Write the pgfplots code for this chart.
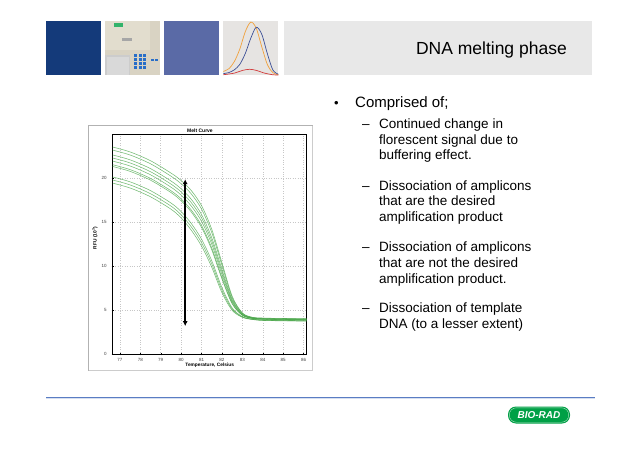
\documentclass[border=0pt]{standalone}
\usepackage{fontspec}
\setmainfont{Liberation Sans}
\usepackage{pgfplots}
\pgfplotsset{compat=1.18}
\usetikzlibrary{arrows.meta}

\definecolor{darkblue}{RGB}{20,58,122}
\definecolor{midblue}{RGB}{90,106,166}
\definecolor{beige}{RGB}{217,211,195}
\definecolor{beigelight}{RGB}{226,221,206}
\definecolor{iconbg}{RGB}{230,228,226}
\definecolor{graybar}{RGB}{232,232,232}
\definecolor{curvegreen}{RGB}{70,165,70}
\definecolor{keyblue}{RGB}{40,110,200}
\definecolor{rulecol}{RGB}{90,125,195}
\definecolor{biorad}{RGB}{0,160,70}
\definecolor{iorange}{RGB}{240,160,60}
\definecolor{iblue}{RGB}{60,80,150}
\definecolor{ired}{RGB}{210,60,60}

\begin{document}
\begin{tikzpicture}
\path[use as bounding box, fill=white] (0,0) rectangle (638pt,451pt);
\begin{scope}[x=1pt,y=-1pt,shift={(0pt,451pt)}]
  % header boxes
  \fill[darkblue] (46,20.7) rectangle (100.7,75.3);
  \fill[beige] (105.3,20.7) rectangle (160,75.3);
  \fill[beigelight] (105.3,20.7) rectangle (150,50);
  \fill[biorad!80] (114,23) rectangle (123,27);
  \fill[black!35] (121.7,38) rectangle (131.7,41);
  \fill[black!20] (105.3,55) rectangle (130,75.3);
  \fill[white!85!black] (106.5,57) rectangle (129,75.3);
  \foreach \i in {0,1,2,3}{\foreach \j in {0,1,2}{
     \fill[keyblue] (134+\j*4.6,54+\i*4) rectangle ++(3,2.6);}}
  \fill[keyblue] (151,59) rectangle ++(2.5,2.5);
  \fill[keyblue] (155,59) rectangle ++(2.5,2.5);
  \fill[midblue] (164.3,20.7) rectangle (219,75.3);
  \fill[iconbg] (223.3,20.7) rectangle (278.3,75.3);
  \fill[graybar] (284.3,20.7) rectangle (592,75.3);
  \node[anchor=base east, font=\fontsize{17.5}{20}\selectfont, inner sep=0pt] at (567,55) {DNA melting phase};

  % bullet text
  \node[anchor=base west, font=\fontsize{13}{18}\selectfont, inner sep=0pt] at (334,107.5) {\textbullet};
  \node[anchor=base west, font=\fontsize{15}{18}\selectfont, inner sep=0pt] at (355,108) {Comprised of;};
  \foreach \y/\t in {128.5/Continued change in, 190/Dissociation of amplicons, 251.5/Dissociation of amplicons, 312.5/Dissociation of template}{
    \node[anchor=base west, font=\fontsize{13.5}{16}\selectfont, inner sep=0pt] at (362,\y) {--};
    \node[anchor=base west, font=\fontsize{13.5}{16}\selectfont, inner sep=0pt] at (379,\y) {\t};}
  \foreach \y/\t in {144.2/florescent signal due to, 160/buffering effect., 205.7/that are the desired, 221.5/amplification product, 267.2/that are not the desired, 283/amplification product., 328.2/DNA (to a lesser extent)}{
    \node[anchor=base west, font=\fontsize{13.5}{16}\selectfont, inner sep=0pt] at (379,\y) {\t};}

  % bottom rule and logo
  \draw[rulecol, line width=1pt] (46,397) -- (595,397);
  \draw[rulecol!25, line width=0.6pt] (46,398.3) -- (595,398.3);
  \fill[biorad, rounded corners=8pt] (508,406.5) rectangle (570,423.5);
  \draw[white!70!biorad, line width=0.4pt, rounded corners=7pt] (509.3,407.8) rectangle (568.7,422.2);
  \node[white, font=\fontsize{10}{12}\selectfont\bfseries\itshape, inner sep=0pt] at (539,415.3) {BIO-RAD};

  % chart frame
  \fill[white] (88,125) rectangle (312,370);
  \draw[black!30, line width=0.9pt] (88,125) rectangle (312,370);
  \draw[black!20, line width=0.9pt] (312.8,125.5) -- (312.8,370.8) -- (88.5,370.8);
  \node[font=\fontsize{5}{6}\selectfont\bfseries, inner sep=0pt] at (200,130.8) {Melt Curve};
  \node[font=\fontsize{4.8}{6}\selectfont\bfseries, inner sep=0pt] at (209.7,365.2) {Temperature, Celsius};
  \node[font=\fontsize{4.8}{6}\selectfont\bfseries, inner sep=0pt, rotate=90] at (95,238) {RFU (10\textsuperscript{3})};

  \coordinate (P) at (112.7,354.3);
  \coordinate (I) at (223.3,75.3);
\end{scope}

% small icon curves
\begin{axis}[at={(I)}, anchor=south west, width=55pt, height=54.6pt, scale only axis,
  hide axis, xmin=0, xmax=1, ymin=0, ymax=1, clip=true]
\addplot[iorange, line width=0.7pt, smooth] coordinates {(0,0.07) (0.1,0.12) (0.2,0.25) (0.3,0.48) (0.4,0.8) (0.5,0.975) (0.6,0.86) (0.7,0.52) (0.8,0.2) (0.9,0.05) (1,0.01)};
\addplot[iblue, line width=0.7pt, smooth] coordinates {(0,0.03) (0.1,0.05) (0.2,0.1) (0.3,0.2) (0.4,0.4) (0.5,0.68) (0.6,0.88) (0.7,0.75) (0.8,0.4) (0.9,0.1) (1,0.02)};
\addplot[ired, line width=0.7pt, smooth] coordinates {(0,0.01) (0.2,0.04) (0.35,0.09) (0.48,0.11) (0.6,0.09) (0.75,0.04) (0.9,0.01) (1,0.005)};
\end{axis}

% melt curve chart
\begin{axis}[at={(P)}, anchor=south west, width=194pt, height=220pt, scale only axis,
  xmin=76.65, xmax=86.15, ymin=0, ymax=25,
  xtick={77,78,...,86}, ytick={0,5,10,15,20},
  minor x tick num=4, minor y tick num=4,
  grid=major, major grid style={dotted, black!22, line width=0.45pt},
  tick pos=left, tick align=center,
  major tick length=2.2pt, minor tick length=1.2pt,
  tick style={black, line width=0.35pt},
  axis line style={black, line width=0.5pt},
  ticklabel style={font=\fontsize{4.5}{5}\selectfont, text=black!75},
  /pgf/number format/assume math mode=true,
  xticklabel style={yshift=0.5pt}, yticklabel style={xshift=-1.5pt},
  clip=true,
  cg/.style={curvegreen, line width=0.55pt, opacity=0.75, smooth}]
\addplot[cg] coordinates {(76.65,23.55) (77.5,23.0) (78.5,22.0) (79.5,20.6) (80,19.75) (80.5,18.6) (81,16.9) (81.5,14.2) (82,10.4) (82.5,6.6) (83,4.7) (83.5,4.2) (84,4.12) (85,4.07) (86.15,4.05)};
\addplot[cg] coordinates {(76.65,23.20) (77.5,22.65) (78.5,21.65) (79.5,20.25) (80,19.39) (80.5,18.22) (81,16.51) (81.5,13.83) (82,10.11) (82.5,6.46) (83,4.66) (83.5,4.18) (84,4.10) (85,4.05) (86.15,4.03)};
\addplot[cg] coordinates {(76.65,22.65) (77.5,22.10) (78.5,21.10) (79.5,19.70) (80,18.81) (80.5,17.61) (81,15.89) (81.5,13.25) (82,9.65) (82.5,6.25) (83,4.59) (83.5,4.14) (84,4.06) (85,4.01) (86.15,3.99)};
\addplot[cg] coordinates {(76.65,22.30) (77.5,21.75) (78.5,20.75) (79.5,19.35) (80,18.45) (80.5,17.23) (81,15.50) (81.5,12.89) (82,9.36) (82.5,6.11) (83,4.55) (83.5,4.12) (84,4.04) (85,3.99) (86.15,3.97)};
\addplot[cg] coordinates {(76.65,21.95) (77.5,21.40) (78.5,20.40) (79.5,19.00) (80,18.09) (80.5,16.84) (81,15.11) (81.5,12.52) (82,9.07) (82.5,5.98) (83,4.50) (83.5,4.10) (84,4.01) (85,3.96) (86.15,3.94)};
\addplot[cg] coordinates {(76.65,21.54) (77.5,20.99) (78.5,19.99) (79.5,18.59) (80,17.67) (80.5,16.39) (81,14.65) (81.5,12.09) (82,8.73) (82.5,5.82) (83,4.45) (83.5,4.08) (84,3.99) (85,3.94) (86.15,3.92)};
\addplot[cg] coordinates {(76.65,21.34) (77.5,20.79) (78.5,19.79) (79.5,18.39) (80,17.45) (80.5,16.17) (81,14.42) (81.5,11.88) (82,8.56) (82.5,5.74) (83,4.43) (83.5,4.06) (84,3.97) (85,3.92) (86.15,3.90)};
\addplot[cg] coordinates {(76.65,20.15) (77.5,19.60) (78.5,18.60) (79.5,17.20) (80,16.22) (80.5,14.86) (81,13.08) (81.5,10.63) (82,7.58) (82.5,5.27) (83,4.28) (83.5,3.99) (84,3.90) (85,3.85) (86.15,3.83)};
\addplot[cg] coordinates {(76.65,19.80) (77.5,19.25) (78.5,18.25) (79.5,16.85) (80,15.86) (80.5,14.48) (81,12.69) (81.5,10.27) (82,7.29) (82.5,5.14) (83,4.24) (83.5,3.97) (84,3.87) (85,3.82) (86.15,3.80)};
\addplot[cg] coordinates {(76.65,19.45) (77.5,18.9) (78.5,17.9) (79.5,16.5) (80,15.5) (80.5,14.1) (81,12.3) (81.5,9.9) (82,7.0) (82.5,5.0) (83,4.2) (83.5,3.95) (84,3.85) (85,3.80) (86.15,3.78)};
\addplot[black, line width=1.6pt, {Latex[length=5pt,width=5pt]}-{Latex[length=5pt,width=5pt]}] coordinates {(80.2,3.2) (80.2,19.9)};
\end{axis}
\end{tikzpicture}
\end{document}
